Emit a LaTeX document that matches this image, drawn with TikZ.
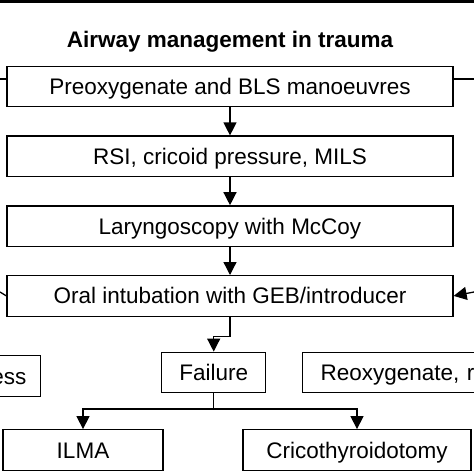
\documentclass[tikz,border=0pt]{standalone}
\usepackage{fontspec}
\setmainfont{Liberation Sans}
\usetikzlibrary{positioning,arrows.meta}

\begin{document}
\begin{tikzpicture}[x=1pt, y=-1pt,
    stage/.style={rectangle, draw=black, line width=1.3pt, minimum width=446pt, minimum height=40.5pt, inner sep=0pt, text height=17pt, text depth=1pt, font=\fontsize{22.5}{27}\selectfont},
    smallbox/.style={rectangle, draw=black, line width=1.3pt, minimum height=40.5pt, inner sep=0pt, text height=16pt, text depth=0pt, font=\fontsize{22.5}{27}\selectfont},
    flow/.style={-{Triangle[length=13pt,width=13pt]}, line width=1.3pt},
    link/.style={line width=1.3pt}]
    \clip (0,0) rectangle (474,474);

    % frame edge at the top
    \coordinate (frameL) at (0,1.3);
    \coordinate (frameR) at (474,1.3);
    \draw[line width=2.7pt] (frameL) -- (frameR);

    % title
    \node[font=\bfseries\fontsize{22.5}{27}\selectfont] (title) at (230,42) {Airway management in trauma};

    % main sequence - stacked boxes
    \node[stage] (preox) at (230,86.5) {Preoxygenate and BLS manoeuvres};
    \node[stage, below=28pt of preox] (rsi) {RSI, cricoid pressure, MILS};
    \node[stage, below=28pt of rsi] (laryn) {Laryngoscopy with McCoy};
    \node[stage, below=28pt of laryn] (oral) {Oral intubation with GEB/introducer};

    % outcome row - side boxes run off the picture
    \node[smallbox, anchor=east, text width=97pt, align=right, inner xsep=14pt] (success) at (41,376) {ess};
    \node[smallbox, minimum width=104pt] (fail) at (213.7,372.5) {Failure};
    \node[smallbox, anchor=west, text width=200pt, align=left, inner xsep=18pt] (reox) at (302,372.5) {Reoxygenate, r};

    % rescue techniques
    \node[smallbox, minimum width=160pt] (ilma) at (83,450) {ILMA};
    \node[smallbox, minimum width=228pt] (crico) at (357,450) {Cricothyroidotomy};

    % flow arrows down the sequence
    \draw[flow] (preox) -- (rsi);
    \draw[flow] (rsi) -- (laryn);
    \draw[flow] (laryn) -- (oral);
    \draw[flow] (oral.south) -- ++(0,20) -| (fail.north);

    % failure splits into two options
    \coordinate (split) at (fail.south |- 0,409);
    \draw[link] (fail.south) -- (split);
    \draw[flow] (split) -| (ilma.north);
    \draw[flow] (split) -| (crico.north);

    % loop lines leaving the picture at the sides
    \coordinate (loopL) at (0,79);
    \coordinate (loopR) at (474,79);
    \coordinate (retryL) at (0,292);
    \coordinate (retryR) at (474,292);
    \draw[link] (loopL) -- (loopL -| preox.west);
    \draw[link] (loopR -| preox.east) -- (loopR);
    \draw[link] (retryL) -- (oral.west);
    \draw[flow] (retryR) -- (oral.east);

\end{tikzpicture}
\end{document}
